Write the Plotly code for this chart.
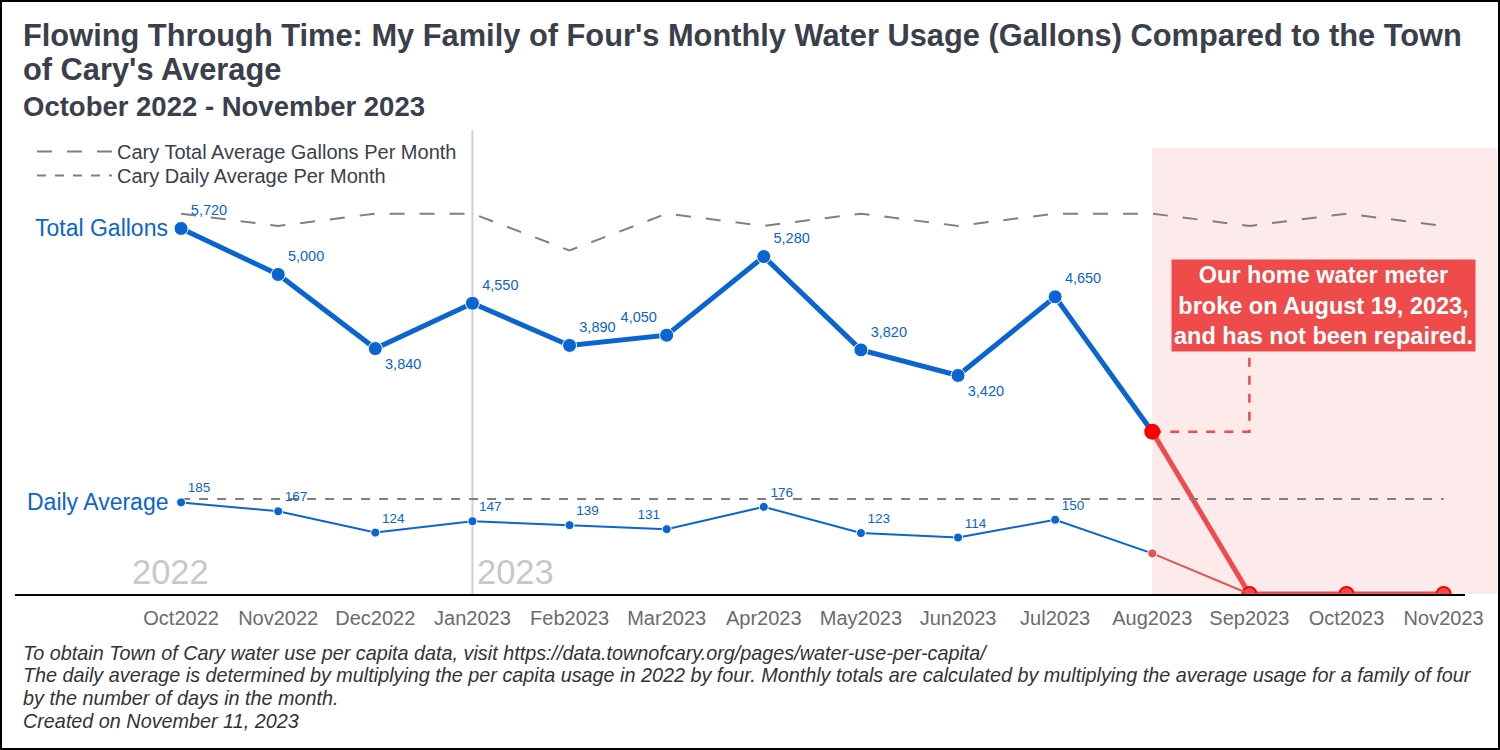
import plotly.graph_objects as go

months = ["Oct2022", "Nov2022", "Dec2022", "Jan2023", "Feb2023", "Mar2023", "Apr2023",
          "May2023", "Jun2023", "Jul2023", "Aug2023", "Sep2023", "Oct2023", "Nov2023"]
family_total = [5720, 5000, 3840, 4550, 3890, 4050, 5280, 3820, 3420, 4650, 2540, 0, 0, 0]
family_daily = [185, 167, 124, 147, 139, 131, 176, 123, 114, 150, 82, 0, 0, 0]
cary_total = [5952, 5760, 5952, 5952, 5376, 5952, 5760, 5952, 5760, 5952, 5952, 5760, 5952, 5760]
cary_daily = [192, 192, 192, 192, 192, 192, 192, 192, 192, 192, 192, 192, 192, 192]
total_label_pos = ["top right", "top right", "bottom right", "top right", "top right", "top left",
                   "top right", "top right", "bottom right", "top right"]
daily_label_pos = ["top right", "top right", "top right", "top right", "top right", "top left",
                   "top right", "top right", "top right", "top right"]
broken_idx = 10  # Aug2023

title_lines = ["Flowing Through Time: My Family of Four's Monthly Water Usage (Gallons) Compared to the Town",
               "of Cary's Average"]
subtitle = "October 2022 - November 2023"
footer_lines = ["To obtain Town of Cary water use per capita data, visit https://data.townofcary.org/pages/water-use-per-capita/",
                "The daily average is determined by multiplying the per capita usage in 2022 by four. Monthly totals are calculated by multiplying the average usage for a family of four",
                "by the number of days in the month.",
                "Created on November 11, 2023"]
note_text = "Our home water meter<br>broke on August 19, 2023,<br>and has not been repaired."

BLUE = "#0a64d2"
RED = "#ef4b4b"
GRAY = "#808080"
DARK = "#3a3f4b"
FONT = "Liberation Sans, Arial, sans-serif"

W, H = 1500, 750
ML, MR, MT, MB = 15, 35, 130, 156
PW, PH = W - ML - MR, H - MT - MB
XR = [-1.71, 13.22]
Y1 = [0, 7261]
Y2 = [0, 937]

def xpaper(px):
    return (px - ML) / PW

def ypaper(py):
    return (H - MB - py) / PH

def xdata_to_paper(xi):
    return (xi - XR[0]) / (XR[1] - XR[0])

fig = go.Figure()

fig.add_trace(go.Scatter(x=months, y=cary_total, mode="lines", name="Cary Total Average Gallons Per Month",
                         line=dict(color=GRAY, width=2, dash="longdash"), yaxis="y", legend="legend"))
fig.add_trace(go.Scatter(x=months, y=cary_daily, mode="lines", name="Cary Daily Average Per Month",
                         line=dict(color=GRAY, width=2, dash="dash"), yaxis="y2", legend="legend2"))

# connector from broken point to note box
note_y = 3818
fig.add_trace(go.Scatter(x=[months[broken_idx], months[broken_idx + 1], months[broken_idx + 1]],
                         y=[family_total[broken_idx], family_total[broken_idx], note_y],
                         mode="lines", line=dict(color=RED, width=2.5, dash="dash"),
                         showlegend=False, hoverinfo="skip", yaxis="y"))

# daily lines
fig.add_trace(go.Scatter(x=months[:broken_idx + 1], y=family_daily[:broken_idx + 1], mode="lines+markers+text",
                         line=dict(color=BLUE, width=2),
                         marker=dict(size=[9] * broken_idx + [0], color=BLUE, opacity=1),
                         text=[f"{v:,}" for v in family_daily[:broken_idx]] + [""],
                         textposition=daily_label_pos + ["top right"],
                         textfont=dict(color=BLUE, size=13.5, family=FONT),
                         showlegend=False, yaxis="y2"))
fig.add_trace(go.Scatter(x=months[broken_idx:], y=family_daily[broken_idx:], mode="lines+markers",
                         line=dict(color="#e05555", width=2),
                         marker=dict(size=[9, 0, 0, 0], color="#e05555", opacity=1),
                         showlegend=False, yaxis="y2"))

# total lines
fig.add_trace(go.Scatter(x=months[:broken_idx + 1], y=family_total[:broken_idx + 1], mode="lines+markers+text",
                         line=dict(color=BLUE, width=5),
                         marker=dict(size=[14] * broken_idx + [0], color=BLUE, opacity=1),
                         text=[f"{v:,}" for v in family_total[:broken_idx]] + [""],
                         textposition=total_label_pos + ["top right"],
                         textfont=dict(color=BLUE, size=14.5, family=FONT),
                         showlegend=False, yaxis="y"))
fig.add_trace(go.Scatter(x=months[broken_idx:], y=family_total[broken_idx:], mode="lines+markers",
                         line=dict(color=RED, width=5),
                         marker=dict(size=[16, 14, 14, 14], color=["#ff0000", RED, RED, RED], opacity=1,
                                     line=dict(color="#ff0000", width=[0, 2, 2, 2])),
                         showlegend=False, yaxis="y"))

shapes = [
    dict(type="rect", xref="paper", yref="paper",
         x0=xdata_to_paper(broken_idx), x1=xpaper(1497), y0=0, y1=ypaper(148),
         fillcolor="#fdeaea", line=dict(width=0), layer="below"),
    dict(type="line", xref="x", yref="paper", x0=3, x1=3, y0=0, y1=1,
         line=dict(color="#d0d0d0", width=2), layer="below"),
    dict(type="rect", xref="paper", yref="paper",
         x0=xpaper(1), x1=xpaper(W - 1), y0=ypaper(H - 1), y1=ypaper(1),
         line=dict(color="black", width=2), fillcolor="rgba(0,0,0,0)"),
]

annotations = []
for i, line in enumerate(title_lines):
    annotations.append(dict(text=f"<b>{line}</b>", xref="paper", yref="paper",
                            x=xpaper(21), y=ypaper(36 + 34 * i), xanchor="left", yanchor="middle",
                            align="left", showarrow=False, font=dict(size=30.8, color=DARK, family=FONT)))
annotations.append(dict(text=f"<b>{subtitle}</b>", xref="paper", yref="paper",
                        x=xpaper(21), y=ypaper(106.5), xanchor="left", yanchor="middle",
                        align="left", showarrow=False, font=dict(size=27.5, color=DARK, family=FONT)))
for i, line in enumerate(footer_lines):
    annotations.append(dict(text=f"<i>{line}</i>", xref="paper", yref="paper",
                            x=xpaper(21), y=ypaper(652.5 + 22.7 * i), xanchor="left", yanchor="middle",
                            align="left", showarrow=False, font=dict(size=19.8, color="#333333", family=FONT)))
annotations += [
    dict(text="Total Gallons", xref="paper", yref="y", x=xpaper(170), y=family_total[0],
         xanchor="right", yanchor="middle", showarrow=False, font=dict(size=23, color=BLUE, family=FONT)),
    dict(text="Daily Average", xref="paper", yref="y2", x=xpaper(171), y=family_daily[0],
         xanchor="right", yanchor="middle", showarrow=False, font=dict(size=23, color=BLUE, family=FONT)),
    dict(text="2022", xref="x", yref="paper", x=0.31, y=ypaper(572), xanchor="right", yanchor="middle",
         showarrow=False, font=dict(size=34.5, color="#c8c8c8", family=FONT)),
    dict(text="2023", xref="x", yref="paper", x=3.03, y=ypaper(572), xanchor="left", yanchor="middle",
         showarrow=False, font=dict(size=34.5, color="#c8c8c8", family=FONT)),
    dict(text=f"<b>{note_text}</b>",
         xref="x", yref="y", x=11.76, y=4507, xanchor="center", yanchor="middle",
         showarrow=False, bgcolor=RED, borderpad=2, align="center",
         font=dict(size=23.5, color="white", family=FONT)),
]

legend_common = dict(xanchor="left", yanchor="top", bgcolor="rgba(0,0,0,0)", itemwidth=75,
                     font=dict(size=20, color=DARK, family=FONT))

fig.update_layout(
    width=W, height=H,
    margin=dict(l=ML, r=MR, t=MT, b=MB),
    paper_bgcolor="white", plot_bgcolor="rgba(0,0,0,0)",
    font=dict(family=FONT, color=DARK),
    showlegend=True,
    legend=dict(x=xpaper(32), y=ypaper(132), **legend_common),
    legend2=dict(x=xpaper(32), y=ypaper(156), **legend_common),
    xaxis=dict(range=XR, type="category", showgrid=False, zeroline=False,
               showline=True, linecolor="black", linewidth=2, ticklabelstandoff=5,
               tickfont=dict(size=20, color="#6b6b6b", family=FONT), ticks=""),
    yaxis=dict(range=Y1, visible=False, showgrid=False, zeroline=False),
    yaxis2=dict(range=Y2, visible=False, overlaying="y", showgrid=False, zeroline=False),
    shapes=shapes,
    annotations=annotations,
)

fig.write_html("out.html", config={"displayModeBar": False},
               post_script="document.body.style.margin='0';")
